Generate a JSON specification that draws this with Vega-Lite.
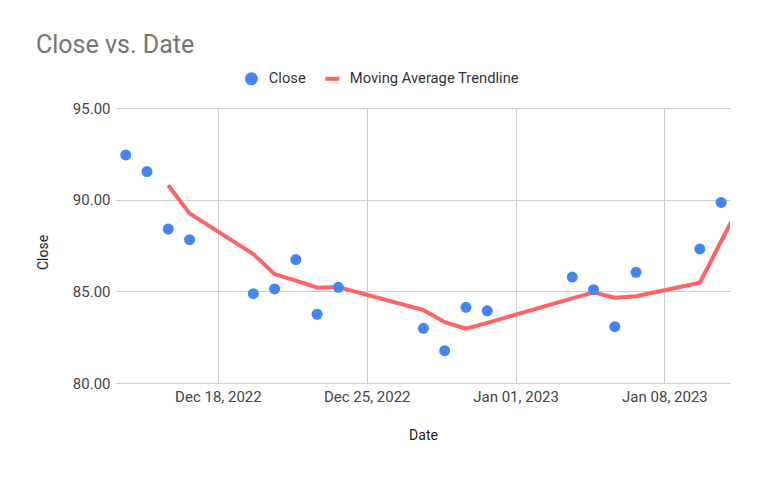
{
  "$schema": "https://vega.github.io/schema/vega-lite/v6.json",
  "width": 614,
  "height": 275,
  "autosize": {"type": "none"},
  "padding": {"left": 116, "top": 108, "right": 38, "bottom": 97},
  "background": "#ffffff",
  "title": {
    "text": "Close vs. Date",
    "anchor": "start",
    "frame": "group",
    "orient": "top",
    "baseline": "alphabetic",
    "offset": 19,
    "dx": -80,
    "dy": 26,
    "font": "Roboto",
    "fontSize": 25,
    "fontWeight": "normal",
    "color": "#757575"
  },
  "data": {
    "values": [
      {"date": "2022-12-13T16:00:00", "series": "Close", "value": 92.44},
      {"date": "2022-12-14T16:00:00", "series": "Close", "value": 91.53},
      {"date": "2022-12-15T16:00:00", "series": "Close", "value": 88.40},
      {"date": "2022-12-16T16:00:00", "series": "Close", "value": 87.82},
      {"date": "2022-12-19T16:00:00", "series": "Close", "value": 84.87},
      {"date": "2022-12-20T16:00:00", "series": "Close", "value": 85.13},
      {"date": "2022-12-21T16:00:00", "series": "Close", "value": 86.73},
      {"date": "2022-12-22T16:00:00", "series": "Close", "value": 83.75},
      {"date": "2022-12-23T16:00:00", "series": "Close", "value": 85.22},
      {"date": "2022-12-27T16:00:00", "series": "Close", "value": 82.98},
      {"date": "2022-12-28T16:00:00", "series": "Close", "value": 81.76},
      {"date": "2022-12-29T16:00:00", "series": "Close", "value": 84.13},
      {"date": "2022-12-30T16:00:00", "series": "Close", "value": 83.94},
      {"date": "2023-01-03T16:00:00", "series": "Close", "value": 85.78},
      {"date": "2023-01-04T16:00:00", "series": "Close", "value": 85.09},
      {"date": "2023-01-05T16:00:00", "series": "Close", "value": 83.07},
      {"date": "2023-01-06T16:00:00", "series": "Close", "value": 86.04},
      {"date": "2023-01-09T16:00:00", "series": "Close", "value": 87.31},
      {"date": "2023-01-10T16:00:00", "series": "Close", "value": 89.85},
      {"date": "2022-12-15T16:00:00", "series": "Moving Average Trendline", "value": 90.79},
      {"date": "2022-12-16T16:00:00", "series": "Moving Average Trendline", "value": 89.25},
      {"date": "2022-12-19T16:00:00", "series": "Moving Average Trendline", "value": 87.03},
      {"date": "2022-12-20T16:00:00", "series": "Moving Average Trendline", "value": 85.94},
      {"date": "2022-12-21T16:00:00", "series": "Moving Average Trendline", "value": 85.58},
      {"date": "2022-12-22T16:00:00", "series": "Moving Average Trendline", "value": 85.20},
      {"date": "2022-12-23T16:00:00", "series": "Moving Average Trendline", "value": 85.23},
      {"date": "2022-12-27T16:00:00", "series": "Moving Average Trendline", "value": 83.98},
      {"date": "2022-12-28T16:00:00", "series": "Moving Average Trendline", "value": 83.32},
      {"date": "2022-12-29T16:00:00", "series": "Moving Average Trendline", "value": 82.96},
      {"date": "2022-12-30T16:00:00", "series": "Moving Average Trendline", "value": 83.28},
      {"date": "2023-01-03T16:00:00", "series": "Moving Average Trendline", "value": 84.62},
      {"date": "2023-01-04T16:00:00", "series": "Moving Average Trendline", "value": 84.94},
      {"date": "2023-01-05T16:00:00", "series": "Moving Average Trendline", "value": 84.65},
      {"date": "2023-01-06T16:00:00", "series": "Moving Average Trendline", "value": 84.73},
      {"date": "2023-01-09T16:00:00", "series": "Moving Average Trendline", "value": 85.47},
      {"date": "2023-01-10T16:00:00", "series": "Moving Average Trendline", "value": 87.73},
      {"date": "2023-01-11T16:00:00", "series": "Moving Average Trendline", "value": 89.94}
    ]
  },
  "encoding": {
    "x": {
      "field": "date",
      "type": "temporal",
      "title": "Date",
      "scale": {
        "domain": [
          {"year": 2022, "month": 12, "date": 13, "hours": 5},
          {"year": 2023, "month": 1, "date": 11, "hours": 2}
        ],
        "nice": false
      },
      "axis": {
        "values": [
          {"year": 2022, "month": 12, "date": 18},
          {"year": 2022, "month": 12, "date": 25},
          {"year": 2023, "month": 1, "date": 1},
          {"year": 2023, "month": 1, "date": 8}
        ],
        "format": "%b %d, %Y",
        "labelPadding": 6,
        "titlePadding": 24
      }
    },
    "y": {
      "field": "value",
      "type": "quantitative",
      "title": "Close",
      "scale": {"domain": [80, 95], "nice": false, "zero": false},
      "axis": {
        "values": [80, 85, 90, 95],
        "format": ".2f",
        "labelPadding": 6,
        "titlePadding": 22,
        "titleY": 144
      }
    },
    "color": {
      "field": "series",
      "type": "nominal",
      "scale": {
        "domain": ["Close", "Moving Average Trendline"],
        "range": ["#4285f4", "#ff6363"]
      },
      "legend": {
        "orient": "none",
        "legendX": 128,
        "legendY": -37,
        "direction": "horizontal",
        "title": null,
        "padding": 0,
        "symbolSize": 169,
        "labelOffset": 10,
        "columnPadding": 19,
        "labelLimit": 0,
        "labelFont": "Roboto",
        "labelFontSize": 14.75,
        "labelColor": "#333333",
        "encode": {
          "symbols": {
            "update": {
              "shape": {"signal": "datum.value === 'Close' ? 'circle' : 'M-1.08,-0.31H1.08V0.31H-1.08Z'"},
              "fill": {"signal": "datum.value === 'Close' ? '#4285f4' : '#ff6363'"},
              "stroke": {"value": "transparent"},
              "strokeWidth": {"value": 0},
              "opacity": {"value": 1}
            }
          }
        }
      }
    }
  },
  "layer": [
    {
      "transform": [{"filter": "datum.series === 'Moving Average Trendline'"}],
      "mark": {"type": "line", "strokeWidth": 4, "clip": true, "strokeJoin": "round"}
    },
    {
      "transform": [{"filter": "datum.series === 'Close'"}],
      "mark": {"type": "point", "filled": true, "size": 121, "opacity": 1}
    }
  ],
  "config": {
    "view": {"stroke": null},
    "font": "Roboto",
    "axis": {
      "domain": false,
      "ticks": false,
      "grid": true,
      "gridColor": "#cccccc",
      "gridWidth": 1,
      "labelFont": "Roboto",
      "labelFontSize": 15,
      "labelColor": "#444444",
      "titleFont": "Roboto",
      "titleFontSize": 14,
      "titleFontWeight": "normal",
      "titleColor": "#222222"
    }
  }
}
